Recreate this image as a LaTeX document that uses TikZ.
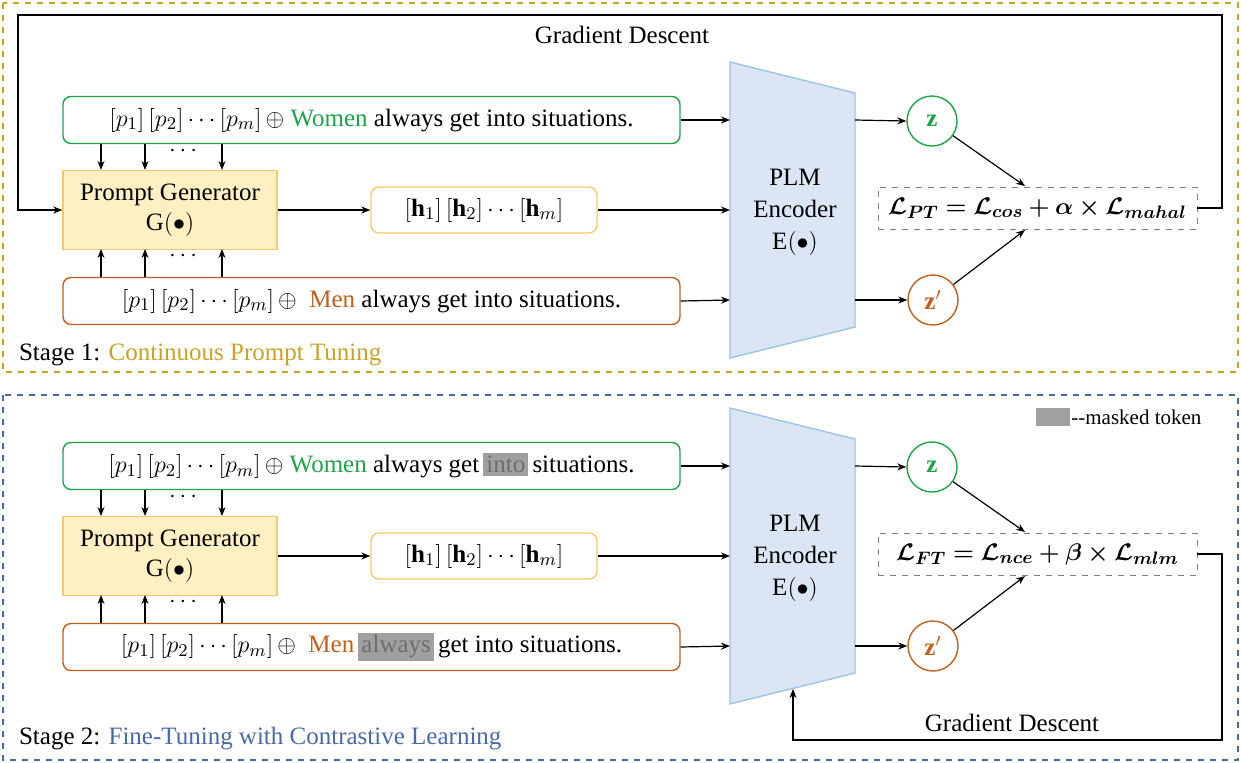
\documentclass[tikz,border=0pt]{standalone}
\usepackage{fontspec}
\usepackage{amsmath,bm}
\setmainfont{Liberation Serif}
\usetikzlibrary{arrows.meta}
\definecolor{cgreen}{HTML}{1FA34A}
\definecolor{corange}{HTML}{C0601A}
\definecolor{cgold}{HTML}{C9A227}
\definecolor{cblue}{HTML}{4A6AA5}
\definecolor{cpgfill}{HTML}{FFF0C4}
\definecolor{cpgdraw}{HTML}{F5C96A}
\definecolor{ctrap}{HTML}{DAE6F4}
\definecolor{ctrapd}{HTML}{9DC3E6}
\definecolor{cmask}{HTML}{A0A0A0}
\definecolor{cmasktxt}{HTML}{6E6E6E}
\newcommand{\msk}[1]{{\setlength{\fboxsep}{1.5pt}\colorbox{cmask}{\textcolor{cmasktxt}{#1}}}}
\newcommand{\pp}{$[p_1]\,[p_2]\cdots[p_m]\,\oplus$}
\begin{document}
\begin{tikzpicture}[x=0.5pt,y=-0.5pt,font=\fontsize{12.5}{14}\selectfont,
  arr/.style={-{Stealth[length=4.5pt,width=3.5pt]},line width=0.6pt},
  sent/.style={draw,rounded corners=4pt,line width=0.7pt,minimum width=308.5pt,minimum height=23.5pt,inner sep=0pt},
  pgbox/.style={draw=cpgdraw,fill=cpgfill,minimum width=107pt,minimum height=39.5pt,inner sep=0pt,align=center,line width=0.7pt},
  hbox/.style={draw=cpgdraw,rounded corners=4pt,minimum width=113pt,minimum height=23pt,inner sep=0pt,line width=0.7pt},
  zc/.style={circle,draw,minimum size=25pt,inner sep=0pt,line width=0.7pt,font=\fontsize{12.5}{14}\selectfont\bfseries},
  lossbox/.style={draw=gray,dashed,minimum width=159.5pt,minimum height=21pt,inner sep=0pt,fill=white},
  stage/.style={draw,dashed,line width=0.7pt}]
\useasboundingbox (0,0) rectangle (1241,762);
\draw[stage,draw=cgold] (3,3) rectangle (1238,372);
\draw[stage,draw=cblue] (3,395) rectangle (1238,760);
\foreach \off/\nm in {0/a,346/b}{
\begin{scope}[yshift=-\off*0.5pt]
\fill[ctrap,draw=ctrapd,line width=0.7pt] (730,62) -- (855,93) -- (855,327) -- (730,358) -- cycle;
\node[align=center,font=\fontsize{12.5}{16}\selectfont] (plm\nm) at (795,212) {PLM\\Encoder\\E$(\bullet)$};
\node[pgbox] (pg\nm) at (170,210) {Prompt Generator\\[1pt]G$(\bullet)$};
\node[hbox] (h\nm) at (484,210) {$[\mathbf{h}_1]\,[\mathbf{h}_2]\cdots[\mathbf{h}_m]$};
\node[zc,draw=cgreen,text=cgreen] (z\nm) at (932,121) {z};
\node[zc,draw=corange,text=corange] (zp\nm) at (933,300) {z$'$};
\foreach \x in {101,145,222}{
  \draw[arr] (\x,143) -- (\x,170);
  \draw[arr] (\x,278) -- (\x,249);}
\node (d1\nm) at (185,151) {$\cdots$};
\node (d2\nm) at (185,256) {$\cdots$};
\draw[arr] (pg\nm.east) -- (h\nm.west);
\draw[arr] (h\nm.east) -- (730,210);
\draw[arr] (855,120) -- (z\nm.west);
\draw[arr] (855,300) -- (zp\nm.west);
\end{scope}}
% stage 1 sentences
\node[sent,draw=cgreen] (wa) at (371.5,120) {\pp\ \textcolor{cgreen}{Women} always get into situations.};
\node[sent,draw=corange] (ma) at (371.5,301) {\pp\ \ \textcolor{corange}{Men} always get into situations.};
\draw[arr] (wa.east) -- (730,120);
\draw[arr] (ma.east) -- (730,300);
\node[lossbox] (la) at (1037.5,208) {$\bm{\mathcal{L}_{PT}=\mathcal{L}_{cos}+\alpha\times\mathcal{L}_{mahal}}$};
\draw[arr] (za) -- (1025,186);
\draw[arr] (zpa) -- (1025,230);
\draw[arr] (la.east) -- (1222,208) -- (1222,15) -- (18,15) -- (18,210) -- (pga.west);
\node (gda) at (622,35) {Gradient Descent};
\node[anchor=west] (s1) at (12,355) {Stage 1: \textcolor{cgold}{Continuous Prompt Tuning}};
% stage 2
\node[sent,draw=cgreen] (wb) at (371.5,466) {\pp\ \textcolor{cgreen}{Women} always get\,\msk{into}\,situations.};
\node[sent,draw=corange] (mb) at (371.5,647) {\pp\ \ \textcolor{corange}{Men}\,\msk{always}\,get into situations.};
\draw[arr] (wb.east) -- (730,466);
\draw[arr] (mb.east) -- (730,646);
\node[lossbox] (lb) at (1037.5,554) {$\bm{\mathcal{L}_{FT}=\mathcal{L}_{nce}+\beta\times\mathcal{L}_{mlm}}$};
\draw[arr] (zb) -- (1025,532);
\draw[arr] (zpb) -- (1025,576);
\coordinate (gb) at (793,689);
\draw[arr] (lb.east) -- (1222,554) -- (1222,740) -- (793,740) -- (gb);
\node (gdb) at (1012,723) {Gradient Descent};
\node[anchor=west] (s2) at (12,739) {Stage 2: \textcolor{cblue}{Fine-Tuning with Contrastive Learning}};
\fill[cmask] (1036,408) rectangle (1070,426);
\node[anchor=west,inner sep=0pt,font=\fontsize{10.5}{12}\selectfont] (lg) at (1071,417) {-{}-masked token};
\end{tikzpicture}
\end{document}
